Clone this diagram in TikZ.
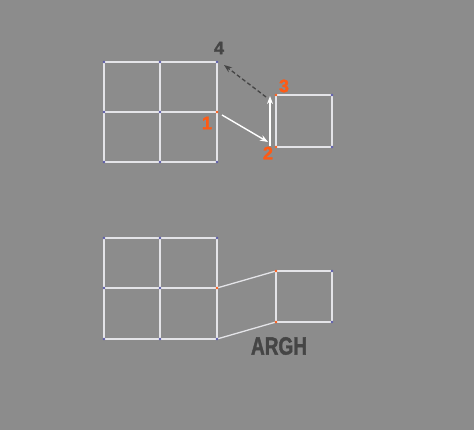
\documentclass[tikz,border=0pt]{standalone}
\usepackage{fontspec}
\setmainfont{Liberation Sans}
\newfontfamily\heavyfam[FakeBold=1.6]{Liberation Sans Bold}
\newfontfamily\narrowfam[FakeStretch=0.76,FakeBold=1.6]{Liberation Sans Bold}
\usetikzlibrary{arrows.meta}
\definecolor{bg}{HTML}{8C8C8C}
\definecolor{edge}{HTML}{E4E4E8}
\definecolor{vert}{HTML}{5A5AA8}
\definecolor{orng}{HTML}{FF5A14}
\definecolor{dark}{HTML}{454545}
\tikzset{
  mesh/.style={draw=edge, line width=1.3pt},
  vdot/.style={circle, fill=vert, inner sep=0pt, minimum size=2.8pt},
  odot/.style={circle, fill=orng, inner sep=0pt, minimum size=2.8pt},
  num/.style={text=orng, font=\heavyfam\fontsize{18}{18}\selectfont, inner sep=0pt},
  darknum/.style={text=dark, font=\heavyfam\fontsize{18}{18}\selectfont, inner sep=0pt},
  arr/.style={draw=white, line width=1.4pt, -{Stealth[length=8pt,width=6pt]}},
  darr/.style={draw=dark, line width=1.3pt, dash pattern=on 4pt off 2.5pt, -{Stealth[length=8pt,width=6pt]}}
}
\begin{document}
\begin{tikzpicture}[x=1pt,y=-1pt]
\fill[bg] (0,0) rectangle (474,430);
\useasboundingbox (0,0) rectangle (474,430);
% ---------- top ----------
\foreach \i/\x in {0/104,1/160,2/217}{
  \foreach \j/\y in {0/62,1/112,2/162}{
    \coordinate (t\i\j) at (\x,\y);
  }
}
\coordinate (sa) at (276,95);
\coordinate (sb) at (332,95);
\coordinate (sc) at (332,147);
\coordinate (sd) at (276,147);
\draw[mesh] (t00) -- (t20) (t01) -- (t21) (t02) -- (t22)
            (t00) -- (t02) (t10) -- (t12) (t20) -- (t22);
\draw[mesh] (sa) -- (sb) -- (sc) -- (sd) -- cycle;
\foreach \n in {t00,t10,t20,t01,t11,t02,t12,t22}{\node[vdot] at (\n) {};}
\node[odot] at (t21) {};
\node[vdot] at (sb) {};
\node[vdot] at (sc) {};
\node[odot] at (sa) {};
\node[odot] at (sd) {};
\coordinate (a1s) at (222,115);
\coordinate (a1e) at (268,142);
\coordinate (a2s) at (270,146);
\coordinate (a2e) at (270,96);
\coordinate (a3s) at (266,97);
\coordinate (a3e) at (224,65);
\draw[arr] (a1s) -- (a1e);
\draw[arr] (a2s) -- (a2e);
\draw[darr] (a3s) -- (a3e);
\node[num] (n1) at (207,123) {1};
\node[num] (n2) at (268,153) {2};
\node[num] (n3) at (284,86) {3};
\node[darknum] (n4) at (219,48) {4};
% ---------- bottom ----------
\foreach \i/\x in {0/104,1/160,2/217}{
  \foreach \j/\y in {0/238,1/288,2/339}{
    \coordinate (b\i\j) at (\x,\y);
  }
}
\coordinate (qa) at (276,271);
\coordinate (qb) at (332,271);
\coordinate (qc) at (332,322);
\coordinate (qd) at (276,322);
\draw[mesh] (b00) -- (b20) (b01) -- (b21) (b02) -- (b22)
            (b00) -- (b02) (b10) -- (b12) (b20) -- (b22);
\draw[mesh] (qa) -- (qb) -- (qc) -- (qd) -- cycle;
\draw[mesh] (b21) -- (qa) (b22) -- (qd);
\foreach \n in {b00,b10,b20,b01,b11,b02,b12,b22,qb,qc}{\node[vdot] at (\n) {};}
\node[odot] at (b21) {};
\node[odot] at (qa) {};
\node[odot] at (qd) {};
\node[text=dark, font=\narrowfam\fontsize{25}{25}\selectfont, inner sep=0pt] (argh) at (279,346) {ARGH};
\end{tikzpicture}
\end{document}
